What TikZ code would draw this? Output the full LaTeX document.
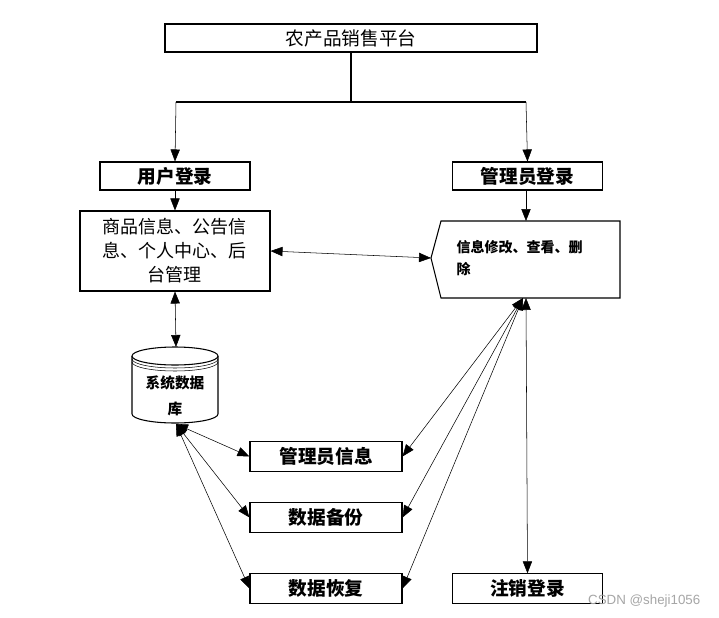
\documentclass[tikz,border=0pt]{standalone}
\usepackage{fontspec}
\setmainfont{Liberation Sans}
\newfontfamily\cjk{Noto Sans CJK SC}
\usetikzlibrary{arrows.meta,shapes.geometric}
\begin{document}
\begin{tikzpicture}[x=0.75pt,y=-0.75pt,
 box/.style={draw,thick,minimum height=0pt,inner sep=0pt},
 ar/.style={-{Triangle[length=9pt,width=7pt]}},
 dar/.style={{Triangle[length=9pt,width=7pt]}-{Triangle[length=9pt,width=7pt]}},
 bt/.style={font=\cjk\bfseries\fontsize{14}{16}\selectfont}]
\useasboundingbox (0,0) rectangle (719,618);
\fill[white] (0,0) rectangle (719,618);
\node[box,minimum width=279pt,minimum height=21pt,font=\cjk\fontsize{14}{16}\selectfont] (top) at (351,38) {农产品销售平台};
\node[box,minimum width=112.5pt,minimum height=21pt,bt] (user) at (175,176) {用户登录};
\node[box,minimum width=113pt,minimum height=21pt,bt] (adm) at (527.5,176) {管理员登录};
\node[box,minimum width=142.5pt,minimum height=60pt,align=center,font=\cjk\fontsize{13.5}{18}\selectfont] (info) at (175,251) {商品信息、公告信\\息、个人中心、后\\台管理};
\draw[thick] (431,258) -- (441,221) -- (620,221) -- (620,298) -- (441,298) -- cycle;
\coordinate (pl) at (431,258);
\coordinate (pt) at (526,221);
\coordinate (pb) at (523,298);
\node[anchor=west,align=left,font=\cjk\bfseries\fontsize{10.5}{17}\selectfont] (ptxt) at (452,258) {信息修改、查看、删\\除};
% cylinder
\draw[thick,fill=white] (132,356) -- (132,414) arc[start angle=180,end angle=0,x radius=43,y radius=9] -- (218,356);
\draw[thick,fill=white] (175,356) ellipse[x radius=43,y radius=9];
\draw (132,359) arc[start angle=180,end angle=0,x radius=43,y radius=9];
\draw (132,362) arc[start angle=180,end angle=0,x radius=43,y radius=9];
\coordinate (dbt) at (176,347);
\coordinate (dbb) at (176,424);
\node[align=center,font=\cjk\bfseries\fontsize{11}{20}\selectfont] (db) at (175,396) {系统数据\\库};
\node[box,minimum width=114pt,minimum height=22pt,bt] (ai) at (326,456.5) {管理员信息};
\node[box,minimum width=114pt,minimum height=22pt,bt] (bk) at (326,517.5) {数据备份};
\node[box,minimum width=114pt,minimum height=22pt,bt] (rc) at (326,588.5) {数据恢复};
\node[box,minimum width=113pt,minimum height=22pt,bt] (lo) at (527.5,588.5) {注销登录};
% connectors
\draw[thick] (top.south) -- (351,102) coordinate (j);
\draw[thick] (176,102) -- (526,102);
\draw[ar] (176,102) -- (user.north);
\draw[ar] (526,102) -- (adm.north);
\draw[ar] (user.south) -- (info.north);
\draw[ar] (adm.south -| pt) -- (pt);
\draw[dar] (info.east) -- (pl);
\draw[dar] (info.south) -- (dbt);
\draw[dar] (dbb) -- (ai.west);
\draw[dar] (dbb) -- (bk.west);
\draw[dar] (dbb) -- (rc.west);
\draw[dar] (pb) -- (ai.east);
\draw[dar] (pb) -- (bk.east);
\draw[dar] (pb) -- (rc.east);
\draw[dar] (526,298) -- (lo.north);
\node[text=gray!70,font=\fontsize{10}{12}\selectfont,anchor=east] (wm) at (705,601) {CSDN @sheji1056};
\end{tikzpicture}
\end{document}
